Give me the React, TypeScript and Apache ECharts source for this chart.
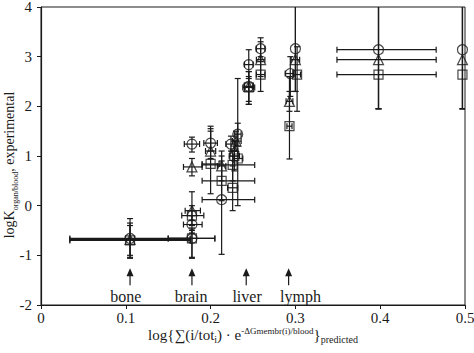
import React, { useEffect, useRef } from "react";
import * as echarts from "echarts";

// Each point: [x, y, xLow, xHigh, yLow, yHigh]
const circlePoints: number[][] = [
  [0.105, -0.66, 0.034, 0.176, -1.0, -0.26],
  [0.178, 1.24, 0.169, 0.187, 1.08, 1.38],
  [0.178, -0.38, 0.168, 0.19, -0.55, -0.2],
  [0.178, -0.66, 0.15, 0.205, -1.04, -0.45],
  [0.2, 1.26, 0.192, 0.208, 1.1, 1.6],
  [0.213, 0.12, 0.19, 0.252, -0.98, 1.0],
  [0.224, 1.24, 0.218, 0.23, 1.1, 1.4],
  [0.232, 1.44, 0.228, 0.236, 1.2, 1.66],
  [0.245, 2.84, 0.24, 0.25, 2.56, 3.14],
  [0.245, 2.4, 0.24, 0.25, 2.1, 2.7],
  [0.259, 3.16, 0.254, 0.264, 2.9, 3.38],
  [0.294, 2.66, 0.288, 0.298, 2.2, 3.0],
  [0.3, 3.16, 0.3, 0.3, 2.3, 4.5],
  [0.398, 3.14, 0.349, 0.466, 1.95, 4.5],
  [0.497, 3.14, 0.497, 0.497, 1.95, 4.5],
];

const trianglePoints: number[][] = [
  [0.105, -0.68, 0.034, 0.176, -1.04, -0.35],
  [0.178, 0.78, 0.168, 0.19, 0.6, 0.95],
  [0.178, -0.1, 0.17, 0.188, -0.3, 0.28],
  [0.2, 1.1, 0.194, 0.206, 0.95, 1.55],
  [0.213, 0.8, 0.208, 0.218, 0.5, 1.1],
  [0.23, 1.3, 0.226, 0.236, 1.1, 1.5],
  [0.228, 1.1, 0.224, 0.232, 0.9, 1.3],
  [0.245, 2.4, 0.24, 0.25, 2.04, 2.6],
  [0.259, 2.94, 0.254, 0.264, 2.6, 3.3],
  [0.293, 2.1, 0.289, 0.297, 1.9, 2.6],
  [0.3, 2.94, 0.295, 0.305, 2.3, 4.5],
  [0.398, 2.94, 0.349, 0.466, 1.95, 4.5],
  [0.497, 2.94, 0.497, 0.497, 1.95, 4.5],
];

const squarePoints: number[][] = [
  [0.105, -0.7, 0.034, 0.176, -1.06, -0.4],
  [0.178, -0.2, 0.166, 0.192, -0.4, 0.0],
  [0.178, -0.66, 0.15, 0.205, -1.06, -0.5],
  [0.2, 0.84, 0.19, 0.21, 0.24, 1.5],
  [0.213, 0.5, 0.19, 0.252, 0.1, 0.9],
  [0.228, 1.0, 0.222, 0.234, 0.7, 1.3],
  [0.226, 0.82, 0.19, 0.252, 0.5, 1.1],
  [0.226, 0.36, 0.22, 0.232, -0.1, 0.8],
  [0.232, 0.95, 0.228, 0.238, 0.0, 2.56],
  [0.245, 2.38, 0.238, 0.252, 2.04, 2.7],
  [0.259, 2.64, 0.254, 0.264, 2.3, 3.0],
  [0.293, 1.6, 0.29, 0.296, 0.94, 2.3],
  [0.302, 2.64, 0.298, 0.306, 1.9, 3.2],
  [0.398, 2.64, 0.349, 0.466, 1.95, 4.5],
  [0.497, 2.64, 0.497, 0.497, 1.95, 4.5],
];

const organNames = ["bone", "brain", "liver", "lymph"];
const organArrowX = [0.105, 0.178, 0.242, 0.292];
const organLabelX = [0.1, 0.177, 0.243, 0.306];
const arrowHeadY = -1.26;
const arrowTailY = -1.6;
const organLabelY = -1.82;

const SERIF = '"Liberation Serif", "Times New Roman", serif';
const INK = "#1a1a1a";

function errorBars(points: number[][]) {
  return {
    type: "custom",
    coordinateSystem: "cartesian2d",
    clip: true,
    silent: true,
    encode: { x: 0, y: 1 },
    data: points,
    z: 2,
    renderItem: (_params: any, api: any) => {
      const x = api.value(0);
      const y = api.value(1);
      const l = api.coord([api.value(2), y]);
      const r = api.coord([api.value(3), y]);
      const b = api.coord([x, api.value(4)]);
      const t = api.coord([x, api.value(5)]);
      const style = { stroke: INK, lineWidth: 1.2 };
      const cap = 3;
      const children: any[] = [];
      const ln = (x1: number, y1: number, x2: number, y2: number) =>
        children.push({ type: "line", shape: { x1, y1, x2, y2 }, style });
      if (r[0] - l[0] > 1) {
        ln(l[0], l[1], r[0], r[1]);
        ln(l[0], l[1] - cap, l[0], l[1] + cap);
        ln(r[0], r[1] - cap, r[0], r[1] + cap);
      }
      if (b[1] - t[1] > 1) {
        ln(t[0], t[1], b[0], b[1]);
        ln(t[0] - cap, t[1], t[0] + cap, t[1]);
        ln(b[0] - cap, b[1], b[0] + cap, b[1]);
      }
      return { type: "group", children };
    },
  };
}

function markers(points: number[][], symbol: string, size: number) {
  return {
    type: "scatter",
    symbol,
    symbolSize: size,
    data: points.map((p) => [p[0], p[1]]),
    z: 3,
    silent: true,
    itemStyle: { color: "rgba(0,0,0,0)", borderColor: INK, borderWidth: 1.2 },
  };
}

export default function App() {
  const ref = useRef<HTMLDivElement>(null);
  useEffect(() => {
    if (!ref.current) return;
    const chart = echarts.init(ref.current, undefined, { renderer: "svg" });
    chart.setOption({
      animation: false,
      backgroundColor: "#fff",
      grid: {
        left: 41,
        right: 9,
        top: 7,
        bottom: 48,
        containLabel: false,
        outerBoundsMode: "none",
        show: true,
        borderColor: INK,
        borderWidth: 1,
        backgroundColor: "transparent",
      },
      xAxis: {
        type: "value",
        min: 0,
        max: 0.5,
        interval: 0.1,
        splitLine: { show: false },
        axisLine: { onZero: false, lineStyle: { color: INK, width: 1.2 } },
        axisTick: { length: 4, lineStyle: { color: INK } },
        axisLabel: {
          color: INK,
          fontFamily: SERIF,
          fontSize: 15,
          lineHeight: 13,
          margin: 6,
          formatter: (v: number) => String(+v.toFixed(1)),
        },
        name:
          "{m|log{∑(i/tot}{s|i}{m|) · e}{p|-ΔGmembr(i)/blood}{m|\u007D}{s|predicted}",
        nameLocation: "middle",
        nameGap: 21,
        nameMoveOverlap: false,
        nameTextStyle: {
          color: INK,
          fontFamily: SERIF,
          fontSize: 15,
          rich: {
            m: { fontFamily: SERIF, fontSize: 15, color: INK, lineHeight: 18 },
            s: {
              fontFamily: SERIF,
              fontSize: 10,
              color: INK,
              lineHeight: 4,
              verticalAlign: "bottom",
            },
            p: {
              fontFamily: SERIF,
              fontSize: 9,
              color: INK,
              lineHeight: 12,
              verticalAlign: "top",
            },
          },
        },
      },
      yAxis: {
        type: "value",
        min: -2,
        max: 4,
        interval: 1,
        splitLine: { show: false },
        axisLine: { onZero: false, lineStyle: { color: INK, width: 1.2 } },
        axisTick: { length: 4, lineStyle: { color: INK } },
        axisLabel: {
          color: INK,
          fontFamily: SERIF,
          fontSize: 15,
          lineHeight: 13,
          margin: 9,
        },
        name: "{m|logK}{s|organ/blood}{m|, experimental}",
        nameLocation: "middle",
        nameRotate: 90,
        nameGap: 22,
        nameMoveOverlap: false,
        nameTextStyle: {
          color: INK,
          fontFamily: SERIF,
          fontSize: 14,
          padding: [0, 18, 0, 0],
          rich: {
            m: { fontFamily: SERIF, fontSize: 14, color: INK, lineHeight: 20 },
            s: {
              fontFamily: SERIF,
              fontSize: 8,
              color: INK,
              lineHeight: 8,
              verticalAlign: "bottom",
            },
          },
        },
      },
      series: [
        errorBars(circlePoints),
        errorBars(trianglePoints),
        errorBars(squarePoints),
        markers(circlePoints, "circle", 10),
        markers(trianglePoints, "triangle", 10),
        markers(squarePoints, "rect", 9),
        {
          type: "custom",
          coordinateSystem: "cartesian2d",
          silent: true,
          encode: { x: 0, y: 1 },
          data: organArrowX.map((x) => [x, arrowTailY]),
          z: 4,
          renderItem: (params: any, api: any) => {
            const i = params.dataIndex;
            const x = api.value(0);
            const head = api.coord([x, arrowHeadY]);
            const tail = api.coord([x, arrowTailY]);
            const lab = api.coord([organLabelX[i], organLabelY]);
            return {
              type: "group",
              children: [
                {
                  type: "line",
                  shape: { x1: tail[0], y1: tail[1], x2: head[0], y2: head[1] + 6 },
                  style: { stroke: INK, lineWidth: 1.2 },
                },
                {
                  type: "polygon",
                  shape: {
                    points: [
                      [head[0], head[1]],
                      [head[0] - 3.5, head[1] + 8],
                      [head[0] + 3.5, head[1] + 8],
                    ],
                  },
                  style: { fill: INK },
                },
                {
                  type: "text",
                  x: lab[0],
                  y: lab[1],
                  style: {
                    text: organNames[i],
                    font: `16px ${SERIF}`,
                    fill: INK,
                    align: "center",
                    verticalAlign: "middle",
                  },
                },
              ],
            };
          },
        },
      ],
    });
    return () => chart.dispose();
  }, []);
  return (
    <div
      ref={ref}
      style={{ position: "fixed", left: 0, top: 0, width: 474, height: 353, background: "#fff" }}
    />
  );
}
